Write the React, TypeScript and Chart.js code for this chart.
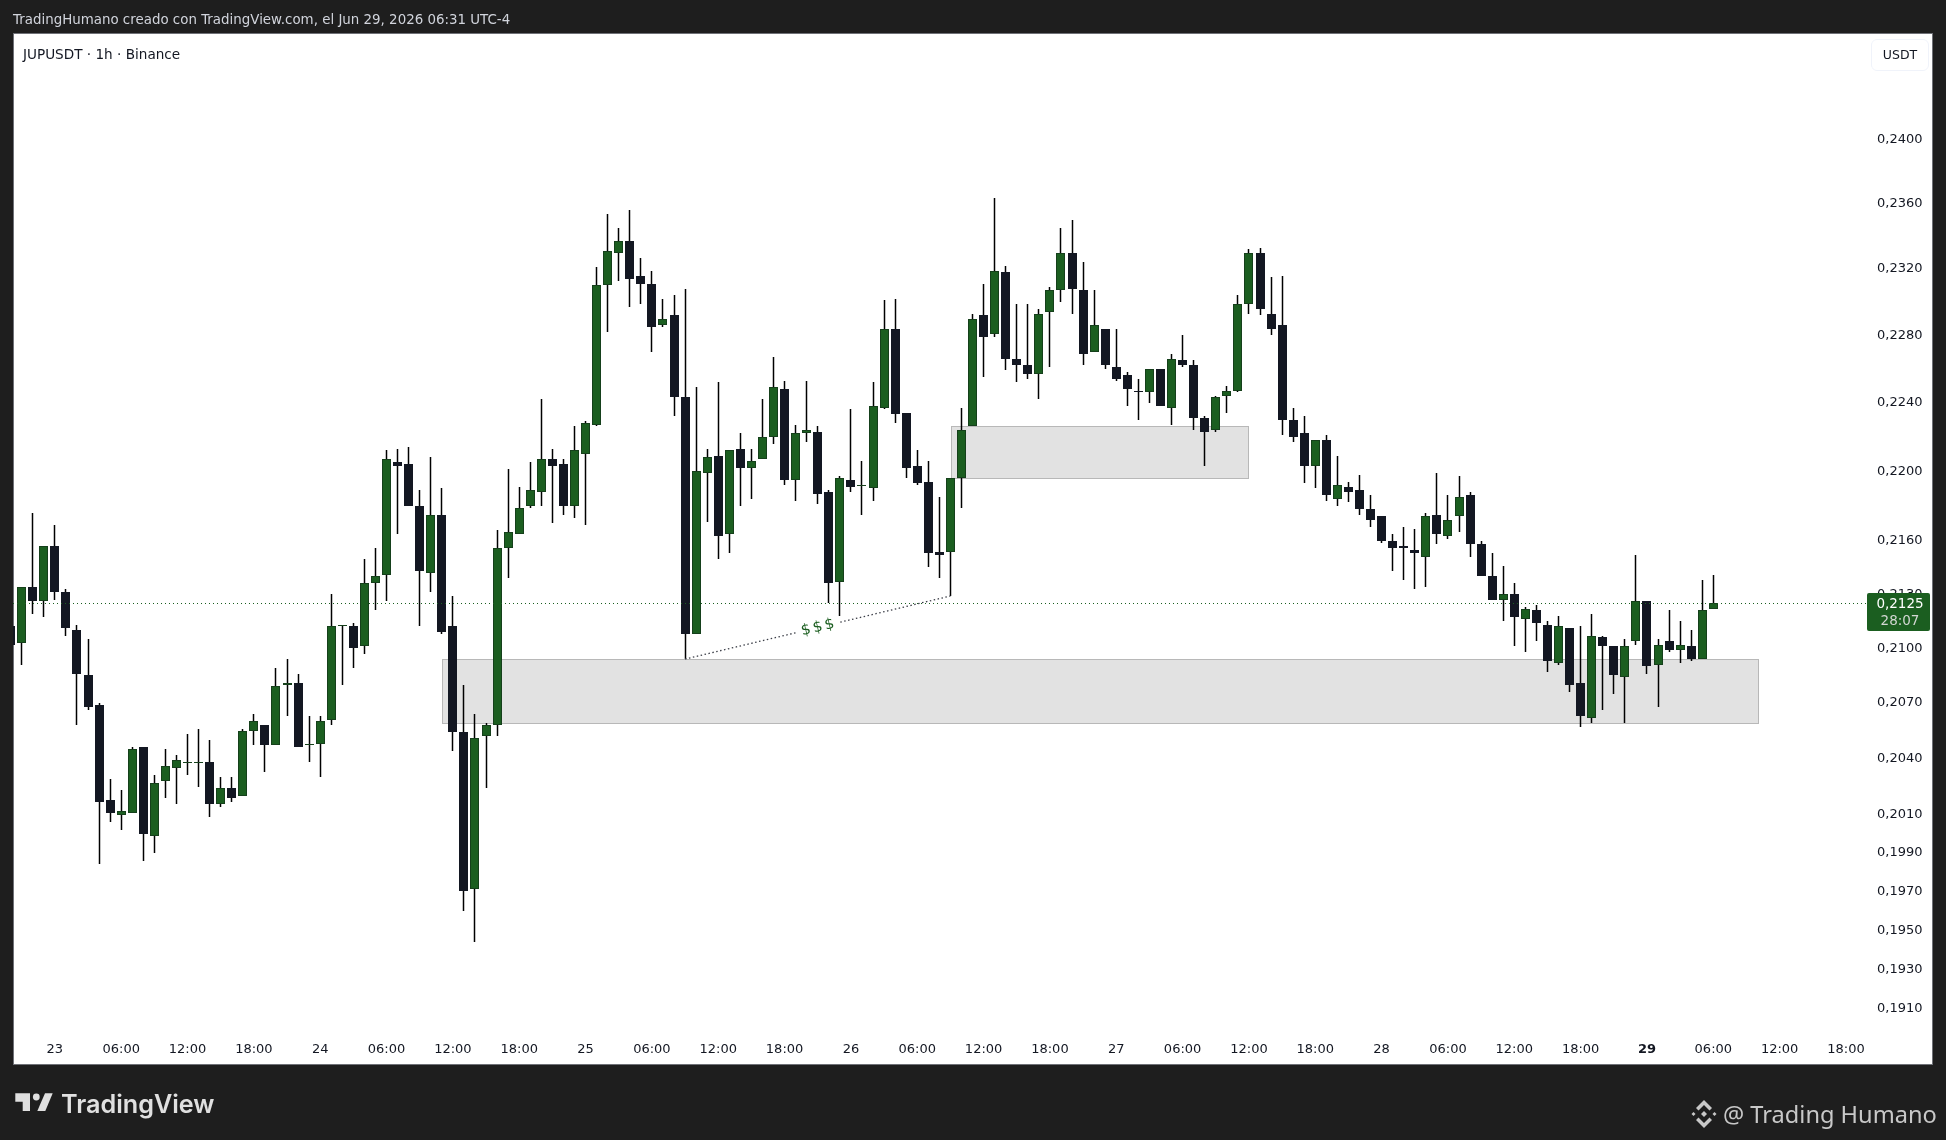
import React, { useEffect, useRef } from "react";
import { Chart, registerables } from "chart.js";

Chart.register(...registerables);

const hours = Array.from({ length: 155 }, (_, k) => k - 4);
const opens = [
  0.2112, 0.2103, 0.2134, 0.2126, 0.2157, 0.2131, 0.211, 0.2085, 0.2069, 0.2018, 0.201, 0.2011, 0.2046, 0.1999, 0.2028, 0.2035,
  0.2038, 0.2038, 0.2038, 0.2016, 0.2024, 0.202, 0.2055, 0.2058, 0.2047, 0.208, 0.2081, 0.2048, 0.2048, 0.2061, 0.2112, 0.2112,
  0.2101, 0.2136, 0.2141, 0.2205, 0.2204, 0.218, 0.2142, 0.2175, 0.2112, 0.2054, 0.1971, 0.2052, 0.2058, 0.2156, 0.2164, 0.218,
  0.2188, 0.2207, 0.2204, 0.218, 0.221, 0.2227, 0.231, 0.233, 0.2337, 0.2316, 0.2311, 0.2286, 0.2292, 0.2243, 0.2108, 0.2199,
  0.2209, 0.2164, 0.2213, 0.2202, 0.2207, 0.222, 0.2248, 0.2195, 0.2222, 0.2223, 0.2188, 0.2137, 0.2195, 0.2192, 0.219, 0.2237,
  0.2284, 0.2234, 0.2203, 0.2194, 0.2154, 0.2154, 0.2196, 0.2226, 0.2292, 0.2281, 0.2318, 0.2266, 0.2262, 0.2257, 0.2294, 0.2307,
  0.233, 0.2307, 0.227, 0.2284, 0.2261, 0.2256, 0.2247, 0.2246, 0.226, 0.2237, 0.2265, 0.2262, 0.2231, 0.2224, 0.2244, 0.2247,
  0.2299, 0.233, 0.2293, 0.2286, 0.223, 0.2222, 0.2203, 0.2218, 0.2184, 0.2191, 0.2189, 0.2178, 0.2174, 0.216, 0.2157, 0.2155,
  0.2151, 0.2175, 0.2163, 0.2174, 0.2186, 0.2158, 0.214, 0.2127, 0.213, 0.2116, 0.2121, 0.2113, 0.2092, 0.2111, 0.2081, 0.2062,
  0.2106, 0.2101, 0.2084, 0.2104, 0.2126, 0.2091, 0.2104, 0.2099, 0.2101, 0.2094, 0.2122,
];
const highs = [
  0.2114, 0.2134, 0.2176, 0.2157, 0.2169, 0.2133, 0.2113, 0.2105, 0.207, 0.2029, 0.2023, 0.2046, 0.2046, 0.2031, 0.2045, 0.2042,
  0.2053, 0.2056, 0.205, 0.203, 0.203, 0.2056, 0.2064, 0.2058, 0.2089, 0.2094, 0.2086, 0.2063, 0.2063, 0.213, 0.2113, 0.2114,
  0.215, 0.2156, 0.2212, 0.2213, 0.2214, 0.2189, 0.2208, 0.219, 0.2129, 0.208, 0.2064, 0.2059, 0.2166, 0.2201, 0.2191, 0.2205,
  0.2242, 0.2213, 0.2207, 0.2226, 0.2229, 0.2321, 0.2354, 0.2345, 0.2356, 0.2327, 0.2319, 0.2302, 0.2304, 0.2308, 0.2249, 0.2213,
  0.2252, 0.2212, 0.2222, 0.2213, 0.2242, 0.2267, 0.2253, 0.2227, 0.2253, 0.2226, 0.2189, 0.2197, 0.2236, 0.2206, 0.2252, 0.2301,
  0.2302, 0.2234, 0.2212, 0.2206, 0.2185, 0.2196, 0.2237, 0.2293, 0.2311, 0.2364, 0.2322, 0.2299, 0.2299, 0.2296, 0.2309, 0.2345,
  0.235, 0.2324, 0.2307, 0.2284, 0.2284, 0.2258, 0.2254, 0.226, 0.226, 0.2269, 0.228, 0.2265, 0.2232, 0.2244, 0.225, 0.2304,
  0.2332, 0.2333, 0.2315, 0.2316, 0.2237, 0.2232, 0.2218, 0.2221, 0.2209, 0.2194, 0.2198, 0.2186, 0.2174, 0.2164, 0.2168, 0.2167,
  0.2176, 0.2199, 0.2186, 0.2197, 0.2188, 0.216, 0.2153, 0.2146, 0.2136, 0.2123, 0.2124, 0.2115, 0.2118, 0.2111, 0.2112, 0.2119,
  0.2107, 0.2101, 0.2105, 0.2152, 0.2126, 0.2105, 0.2121, 0.2115, 0.211, 0.2138, 0.2141,
];
const lows = [
  0.21, 0.2091, 0.2119, 0.2117, 0.2127, 0.2107, 0.2058, 0.2066, 0.1984, 0.2006, 0.2002, 0.2011, 0.1986, 0.199, 0.2019, 0.2016,
  0.2031, 0.2025, 0.2009, 0.2014, 0.2017, 0.202, 0.2047, 0.2033, 0.2047, 0.2063, 0.2046, 0.2038, 0.203, 0.2058, 0.208, 0.2089,
  0.2097, 0.2121, 0.2126, 0.2164, 0.218, 0.2112, 0.2131, 0.2108, 0.2044, 0.196, 0.1944, 0.2024, 0.2052, 0.2139, 0.2164, 0.2179,
  0.218, 0.217, 0.2175, 0.2173, 0.2169, 0.2226, 0.2282, 0.2313, 0.2297, 0.2299, 0.227, 0.2285, 0.2232, 0.2094, 0.2108, 0.2171,
  0.215, 0.2153, 0.218, 0.2184, 0.2207, 0.2216, 0.2192, 0.2183, 0.2217, 0.2181, 0.2125, 0.2118, 0.2188, 0.2175, 0.2183, 0.2236,
  0.2228, 0.2196, 0.2192, 0.2145, 0.2139, 0.2129, 0.2179, 0.2226, 0.2255, 0.2279, 0.2259, 0.2252, 0.2254, 0.2242, 0.2261, 0.23,
  0.2293, 0.2262, 0.227, 0.226, 0.2253, 0.2238, 0.223, 0.224, 0.2238, 0.2227, 0.2261, 0.2224, 0.2203, 0.2223, 0.2234, 0.2246,
  0.2293, 0.2292, 0.228, 0.2221, 0.2217, 0.2193, 0.219, 0.2183, 0.218, 0.2182, 0.2175, 0.2168, 0.2159, 0.2143, 0.2138, 0.2133,
  0.2134, 0.2158, 0.2161, 0.2165, 0.2151, 0.214, 0.2127, 0.2115, 0.2101, 0.2098, 0.2104, 0.2087, 0.2091, 0.2076, 0.2057, 0.2059,
  0.2066, 0.2075, 0.2059, 0.2102, 0.2086, 0.2068, 0.2098, 0.2092, 0.2093, 0.2094, 0.2122,
];
const closes = [
  0.2102, 0.2134, 0.2126, 0.2157, 0.2131, 0.2111, 0.2086, 0.2068, 0.2017, 0.2011, 0.2012, 0.2045, 0.2, 0.2027, 0.2036, 0.2039,
  0.2038, 0.2038, 0.2016, 0.2024, 0.2019, 0.2055, 0.206, 0.2047, 0.2079, 0.2081, 0.2046, 0.2048, 0.206, 0.2112, 0.2113, 0.21,
  0.2136, 0.214, 0.2207, 0.2203, 0.218, 0.2143, 0.2175, 0.2109, 0.2054, 0.197, 0.2051, 0.2058, 0.2156, 0.2165, 0.2179, 0.2189,
  0.2207, 0.2203, 0.218, 0.2212, 0.2228, 0.231, 0.2331, 0.2337, 0.2314, 0.2311, 0.2285, 0.229, 0.2243, 0.2108, 0.22, 0.2208,
  0.2163, 0.2212, 0.2202, 0.2206, 0.222, 0.2249, 0.2195, 0.2222, 0.2224, 0.2187, 0.2136, 0.2196, 0.2191, 0.2192, 0.2238, 0.2284,
  0.2233, 0.2202, 0.2193, 0.2153, 0.2152, 0.2196, 0.2224, 0.229, 0.2279, 0.2319, 0.2266, 0.2262, 0.2257, 0.2293, 0.2307, 0.233,
  0.2308, 0.2269, 0.2286, 0.2262, 0.2254, 0.2248, 0.2246, 0.226, 0.2238, 0.2266, 0.2262, 0.2231, 0.2223, 0.2243, 0.2247, 0.2299,
  0.233, 0.2296, 0.2284, 0.223, 0.222, 0.2203, 0.2218, 0.2186, 0.2192, 0.2188, 0.2178, 0.2172, 0.216, 0.2156, 0.2156, 0.2153,
  0.2174, 0.2164, 0.2172, 0.2185, 0.2158, 0.214, 0.2127, 0.213, 0.2117, 0.2122, 0.2114, 0.2093, 0.2112, 0.208, 0.2063, 0.2107,
  0.2101, 0.2085, 0.2101, 0.2126, 0.209, 0.2102, 0.2099, 0.2102, 0.2094, 0.2121, 0.2125,
];

const priceTicks = [0.24, 0.236, 0.232, 0.228, 0.224, 0.22, 0.216, 0.213, 0.21, 0.207, 0.204, 0.201, 0.199, 0.197, 0.195, 0.193, 0.191];
const timeTicks = [0, 6, 12, 18, 24, 30, 36, 42, 48, 54, 60, 66, 72, 78, 84, 90, 96, 102, 108, 114, 120, 126, 132, 138, 144, 150, 156, 162];
const timeLabels = ["23", "06:00", "12:00", "18:00", "24", "06:00", "12:00", "18:00", "25", "06:00", "12:00", "18:00", "26", "06:00", "12:00", "18:00", "27", "06:00", "12:00", "18:00", "28", "06:00", "12:00", "18:00", "29", "06:00", "12:00", "18:00"];
const lastPrice = 0.2125;
const countdown = "28:07";
const zoneA = { from: 35.03, to: 154.1, top: 0.2094, bottom: 0.2059 };
const zoneB = { from: 81.07, to: 108, top: 0.2226, bottom: 0.2196 };
const sweepHours = [57, 81];
const sweepPrices = [0.2094, 0.2129];

const GREEN = "#1b5e20";
const GREEN_EDGE = "#15401b";
const DARK = "#131722";
const FONT = "'DejaVu Sans'";

const snapPlugin = {
  id: "snap",
  afterDatasetsUpdate(chart: any) {
    chart.data.datasets.forEach((ds: any, di: number) => {
      const meta = chart.getDatasetMeta(di);
      if (ds.type === "line") {
        meta.data.forEach((p: any) => { p.y = Math.floor(p.y) + 0.5; });
        return;
      }
      meta.data.forEach((el: any) => {
        el.x = Math.floor(el.x) + 0.5;
        const a = Math.round(el.y);
        let b = Math.round(el.base);
        if (a === b) b = a + 1;
        el.y = a;
        el.base = b;
      });
    });
  },
};

const overlayPlugin = {
  id: "overlay",
  beforeDatasetsDraw(chart: any) {
    const { ctx, scales } = chart;
    ctx.save();
    for (const z of [zoneA, zoneB]) {
      const l = Math.floor(scales.x.getPixelForValue(z.from)) + 0.5;
      const r = Math.floor(scales.x.getPixelForValue(z.to)) + 0.5;
      const t = Math.floor(scales.y.getPixelForValue(z.top)) + 0.5;
      const b = Math.floor(scales.y.getPixelForValue(z.bottom)) + 0.5;
      ctx.fillStyle = "#e2e2e2";
      ctx.fillRect(l, t, r - l, b - t);
      ctx.strokeStyle = "#b8b8b8";
      ctx.lineWidth = 1;
      ctx.strokeRect(l, t, r - l, b - t);
    }
    ctx.restore();
  },
  afterDatasetsDraw(chart: any) {
    const { ctx, scales } = chart;
    const x0 = scales.x.getPixelForValue(sweepHours[0]);
    const x1 = scales.x.getPixelForValue(sweepHours[1]);
    const y0 = scales.y.getPixelForValue(sweepPrices[0]);
    const y1 = scales.y.getPixelForValue(sweepPrices[1]);
    const at = (t: number) => [x0 + (x1 - x0) * t, y0 + (y1 - y0) * t];
    ctx.save();
    ctx.strokeStyle = "#3c3f48";
    ctx.lineWidth = 1.3;
    ctx.setLineDash([1.5, 2.5]);
    ctx.beginPath();
    ctx.moveTo(...at(0));
    ctx.lineTo(...at(0.42));
    ctx.moveTo(...at(0.585));
    ctx.lineTo(...at(1));
    ctx.stroke();
    ctx.setLineDash([]);
    const [mx, my] = at(0.5);
    ctx.translate(mx, my);
    ctx.rotate(Math.atan2(y1 - y0, x1 - x0));
    ctx.fillStyle = GREEN;
    ctx.font = `15px ${FONT}`;
    ctx.textAlign = "center";
    ctx.textBaseline = "middle";
    ctx.fillText("$", -12, 0);
    ctx.fillText("$", 0, 0);
    ctx.fillText("$", 12, 0);
    ctx.restore();
  },
  afterDraw(chart: any) {
    const { ctx, scales } = chart;
    const y = Math.floor(scales.y.getPixelForValue(lastPrice)) + 0.5;
    ctx.save();
    ctx.fillStyle = GREEN;
    ctx.beginPath();
    ctx.roundRect(chart.chartArea.right, y - 10.5, 63, 38, 2);
    ctx.fill();
    ctx.textAlign = "center";
    ctx.textBaseline = "middle";
    ctx.font = `13.5px ${FONT}`;
    ctx.fillStyle = "#ffffff";
    ctx.fillText(lastPrice.toFixed(4).replace(".", ","), 1900, y + 1);
    ctx.fillStyle = "#d3d7d3";
    ctx.fillText(countdown, 1900, y + 18);
    ctx.restore();
  },
};

export default function App() {
  const ref = useRef<HTMLCanvasElement>(null);
  useEffect(() => {
    const up = closes.map((c, i) => c >= opens[i]);
    const chart = new Chart(ref.current as HTMLCanvasElement, {
      type: "bar",
      data: {
        datasets: [
          {
            type: "line",
            data: [{ x: -3.785, y: lastPrice }, { x: 163.9, y: lastPrice }],
            borderColor: GREEN,
            borderWidth: 1,
            borderDash: [1, 3],
            pointRadius: 0,
            order: 0,
          },
          {
            data: hours.map((h, i) => ({ x: h, y: [opens[i], closes[i]] })),
            backgroundColor: up.map((u) => (u ? GREEN : DARK)),
            borderColor: up.map((u) => (u ? GREEN_EDGE : DARK)),
            borderWidth: 1,
            borderSkipped: false,
            inflateAmount: 0,
            barThickness: 9,
            grouped: false,
            order: 1,
          },
          {
            data: hours.map((h, i) => ({ x: h, y: [lows[i], highs[i]] })),
            backgroundColor: "#000000",
            borderWidth: 0,
            borderSkipped: false,
            inflateAmount: 0,
            barThickness: 1.5,
            grouped: false,
            order: 2,
          },
        ],
      } as any,
      options: {
        responsive: false,
        animation: false,
        devicePixelRatio: 1,
        layout: { padding: { left: 13, right: 13, top: 34, bottom: 76 } },
        plugins: { legend: { display: false }, tooltip: { enabled: false } },
        scales: {
          x: {
            type: "linear",
            offset: false,
            min: -3.785,
            max: 163.9,
            grid: { display: false },
            border: { display: false },
            afterBuildTicks: (s: any) => { s.ticks = timeTicks.map((v) => ({ value: v })); },
            afterFit: (s: any) => { s.height = 32; },
            ticks: {
              autoSkip: false,
              maxRotation: 0,
              padding: 2,
              color: DARK,
              font: (c: any) => ({ family: FONT, size: 13, weight: c.tick && c.tick.value === 144 ? "bold" : "normal" }),
              callback: (v: any) => timeLabels[timeTicks.indexOf(v)],
            },
          },
          y: {
            type: "logarithmic",
            position: "right",
            bounds: "data",
            min: 0.189854,
            max: 0.246778,
            grid: { display: false },
            border: { display: false },
            afterBuildTicks: (s: any) => { s.ticks = priceTicks.map((v) => ({ value: v })); },
            afterFit: (s: any) => { s.width = 66; },
            ticks: {
              autoSkip: false,
              padding: 2,
              color: DARK,
              font: { family: FONT, size: 13 },
              callback: (v: any) => Number(v).toFixed(4).replace(".", ","),
            },
          },
        },
      } as any,
      plugins: [snapPlugin, overlayPlugin],
    });
    return () => chart.destroy();
  }, []);

  const abs = (o: any): React.CSSProperties => ({ position: "absolute", whiteSpace: "nowrap", ...o });
  return (
    <div style={{ position: "fixed", left: 0, top: 0, width: 1946, height: 1140, background: "#1e1e1e", overflow: "hidden" }}>
      <div style={abs({ left: 14, top: 34, width: 1918, height: 1030, background: "#ffffff", outline: "1px solid #6f7177" })} />
      <canvas ref={ref} width={1946} height={1140} style={{ position: "absolute", left: 0, top: 0, width: 1946, height: 1140 }} />
      <div style={abs({ left: 13, top: 11, font: `13.4px ${FONT}`, color: "#d1d4dc", lineHeight: "18px" })}>
        TradingHumano creado con TradingView.com, el Jun 29, 2026 06:31 UTC-4
      </div>
      <div style={abs({ left: 23, top: 45, font: `13.6px ${FONT}`, color: DARK, lineHeight: "18px" })}>JUPUSDT · 1h · Binance</div>
      <div style={abs({ left: 1871, top: 39, width: 56, height: 30, border: "1px solid #f0f3fa", borderRadius: 6, font: `12.5px ${FONT}`, color: DARK, lineHeight: "30px", textAlign: "center" })}>USDT</div>
      <svg width={60} height={35} style={{ position: "absolute", left: 0, top: 1085 }}>
        <g fill="#e0e0e0">
          <polygon points="15.3,8.3 30,8.3 30,26 22.7,26 22.7,16.7 15.3,16.7" />
          <circle cx={36.3} cy={12} r={3.4} />
          <polygon points="45,8.3 52.7,8.3 45.3,26 37.3,26" />
        </g>
      </svg>
      <div style={abs({ left: 61, top: 1087, font: `600 25.2px Inter`, color: "#e0e0e0", lineHeight: "34px" })}>TradingView</div>
      <svg width={40} height={40} style={{ position: "absolute", left: 1684, top: 1094 }}>
        <g fill="#c8c8c8">
          <polygon points="20,6 28,14 25.5,16.5 20,11 14.5,16.5 12,14" />
          <polygon points="20,34 28,26 25.5,23.5 20,29 14.5,23.5 12,26" />
          <polygon points="20,17 23,20 20,23 17,20" />
          <polygon points="9.5,18 11.5,20 9.5,22 7.5,20" />
          <polygon points="30.5,18 32.5,20 30.5,22 28.5,20" />
        </g>
      </svg>
      <div style={abs({ left: 1723, top: 1096, font: `23.6px 'Noto Sans'`, color: "#c8c8c8", lineHeight: "36px" })}>@ Trading Humano</div>
    </div>
  );
}
